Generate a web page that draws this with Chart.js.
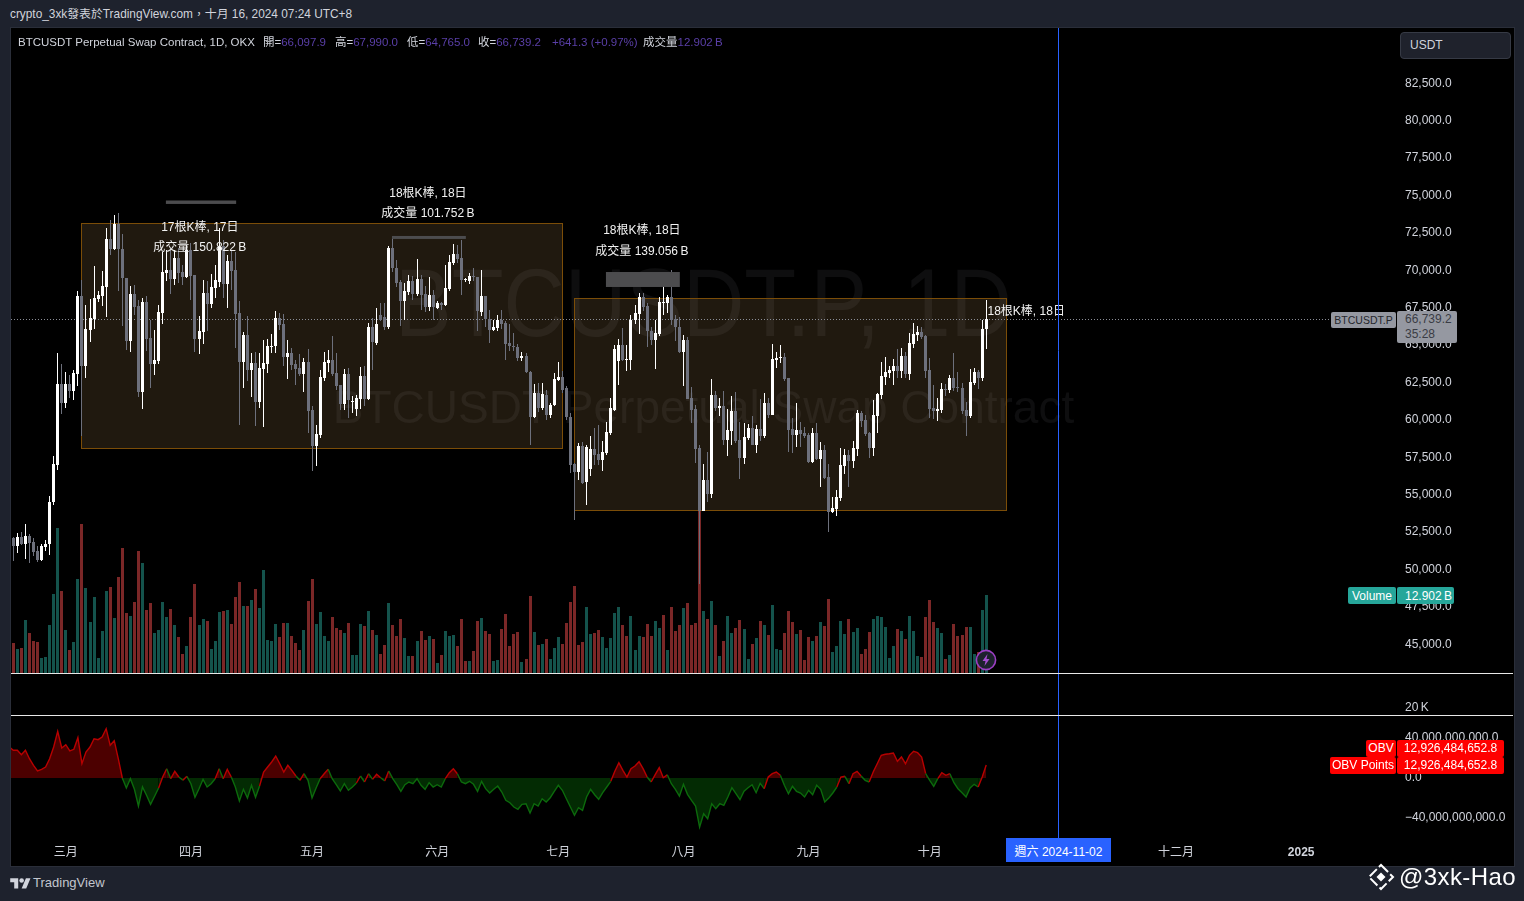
<!DOCTYPE html>
<html>
<head>
<meta charset="utf-8">
<title>BTCUSDT.P 1D</title>
<script src="https://cdn.jsdelivr.net/npm/chart.js@4/dist/chart.umd.js"></script>
<style>
  html, body { margin: 0; padding: 0; width: 1524px; height: 901px; overflow: hidden; background: #1e222d; }
  body { font: 12px "Liberation Sans", "Noto Sans CJK TC", sans-serif; color: #d1d4dc; position: relative; }
  canvas { position: absolute; left: 11px; }
  .abs { position: absolute; white-space: nowrap; }
  #pane { position: absolute; left: 10px; top: 27px; width: 1503px; height: 838px; background: #000; border: 1px solid #2a2e39; box-sizing: content-box; }
  .sep { position: absolute; left: 11px; width: 1502px; height: 1px; background: #e8e8e8; }
  .tag { position: absolute; text-align: center; white-space: nowrap; border-radius: 2px; }
  .legend span { position: absolute; top: 0; white-space: nowrap; line-height: 14px; }
  .val { color: #5a3fa8; font-style: normal; }
</style>
</head>
<body>
<div id="pane"></div>
<canvas id="priceChart" width="1502" height="645" style="top:28px"></canvas>
<canvas id="gapChart" width="1502" height="42" style="top:673px"></canvas>
<canvas id="obvChart" width="1502" height="151" style="top:715px"></canvas>
<div class="sep" style="top:673px"></div>
<div class="sep" style="top:715px"></div>

<div class="abs" style="left:10px;top:7px;line-height:14px;font-size:11.85px">crypto_3xk發表於TradingView.com，十月 16, 2024 07:24 UTC+8</div>

<div class="legend abs" style="left:0;top:35px;font-size:11.5px">
  <span style="left:18px">BTCUSDT Perpetual Swap Contract, 1D, OKX</span>
  <span style="left:263px">開=<i class="val">66,097.9</i></span>
  <span style="left:335px">高=<i class="val">67,990.0</i></span>
  <span style="left:407px">低=<i class="val">64,765.0</i></span>
  <span style="left:478px">收=<i class="val">66,739.2</i></span>
  <span class="val" style="left:552px">+641.3 (+0.97%)</span>
  <span style="left:643px">成交量<i class="val">12.902&#8201;B</i></span>
</div>

<div class="tag" style="left:1400px;top:32px;width:100px;height:25px;line-height:25px;background:#1f222c;border:1px solid #363a45;text-align:left;padding-left:9px;border-radius:4px">USDT</div>

<div class="tag" style="left:1331px;top:312px;width:65px;height:16px;line-height:16px;background:#9598a1;color:#24262c;font-size:10.5px">BTCUSDT.P</div>
<div class="tag" style="left:1397px;top:311px;width:60px;height:32px;line-height:15px;background:#9598a1;color:#3a3c44;padding-top:1px;box-sizing:border-box;text-align:left;padding-left:8px">66,739.2<br>35:28</div>

<div class="tag" style="left:1348px;top:587px;width:48px;height:17px;line-height:18px;background:#26a69a;color:#fff">Volume</div>
<div class="tag" style="left:1397px;top:587px;width:57px;height:17px;line-height:18px;background:#26a69a;color:#fff;text-align:left;padding-left:8px;box-sizing:border-box">12.902&#8201;B</div>

<div class="tag" style="left:1366px;top:740px;width:30px;height:17px;line-height:17px;background:#f00;color:#fff">OBV</div>
<div class="tag" style="left:1330px;top:757px;width:66px;height:17px;line-height:17px;background:#f00;color:#fff">OBV Points</div>
<div class="tag" style="left:1397px;top:740px;width:107px;height:17px;line-height:17px;background:#f00;color:#fff">12,926,484,652.8</div>
<div class="tag" style="left:1397px;top:757px;width:107px;height:17px;line-height:17px;background:#f00;color:#fff">12,926,484,652.8</div>

<div class="tag" style="left:1006px;top:838px;width:105px;height:24px;line-height:28px;background:#2962ff;color:#fff;border-radius:0">週六 2024-11-02</div>

<svg class="abs" style="left:975px;top:649px" width="22" height="22" viewBox="0 0 22 22">
  <circle cx="11" cy="11" r="9.6" fill="#1e222d" stroke="#9c3fc4" stroke-width="1.6"/>
  <path d="M12.5 5 L7.5 12 L10.5 12 L9.5 17 L14.5 10 L11.5 10 Z" fill="#a64fd0"/>
</svg>

<svg class="abs" style="left:10px;top:877px" width="21" height="12" viewBox="0 2 36 21" fill="#d1d4dc">
  <path d="M14 22H7V11H0V4h14v18zM28 22h-8l7.5-18h8L28 22z"/><circle cx="20" cy="8" r="4"/>
</svg>
<div class="abs" style="left:33px;top:875px;font-size:13px;color:#c3c6ce">TradingView</div>

<svg class="abs" style="left:1367px;top:863px" width="28" height="28" viewBox="0 0 28 28" fill="none" stroke="#fff" stroke-width="2">
  <path d="M14 2 L26 14 L14 26 L2 14 Z" stroke-dasharray="10 3"/>
  <path d="M14 9.5 L18.5 14 L14 18.5 L9.5 14 Z" fill="#fff" stroke="none"/>
</svg>
<div class="abs" style="left:1399px;top:863px;font-size:24px;color:#fff;letter-spacing:.4px">@3xk-Hao</div>

<script>
// price data, one candle a day from 2024-02-17
const opens = [
  52100,51570,52170,51700,52240,51830,51230,50630,51500,51700,
  54500,57000,62420,61120,62420,61950,63090,68300,63620,66030,
  66760,68100,68300,68900,72110,71440,73110,71440,69500,65290,
  68430,67630,61880,67900,65490,63750,63950,67160,69840,70040,
  69440,70840,69900,69570,71370,69700,65420,65890,68500,67760,
  68830,69230,71600,69100,70640,70040,67160,63890,65690,63350,
  63820,61210,63420,63750,64900,64910,66830,66430,64220,64490,
  63750,63490,63090,63890,60680,58270,59010,62820,63820,64020,
  63150,62350,61080,63090,61170,60750,61410,62950,61410,66230,
  65140,67010,66870,66200,71490,70150,69190,67920,68520,69300,
  68430,69440,68430,67560,68370,67500,67810,67700,68770,70500,
  71110,70840,69320,69260,69640,69570,67210,68300,66740,65980,
  66140,66690,66470,65140,64960,64870,64130,64290,63220,60210,
  61790,60790,61680,60350,60970,62690,62860,62130,60170,57070,
  56540,58230,55820,56710,58050,57720,57290,57780,59120,60680,
  63950,65020,64020,64020,66650,67100,68210,67590,65960,65310,
  65760,67830,67790,68190,66740,66180,64530,65340,61440,60720,
  58120,53910,55980,55040,61660,60790,60920,58650,59250,60590,
  58650,57450,58810,59480,58320,59410,58920,61120,60320,64020,
  64130,64200,62800,59390,58990,59320,59140,58990,57200,59120,
  57380,57980,56180,53840,54060,54750,56940,57650,57250,58050,
  60460,59990,59120,58140,60280,61660,62890,63110,63290,63600,
  63260,64270,63060,65070,65670,65890,65600,63330,60790,60590,
  60660,62060,61990,62800,62190,62130,60660,60260,62460,63200,
  62800,66097.9
];
const closes = [
  51570,52170,51680,52240,51770,51170,50630,51570,51700,54500,
  57050,62420,61120,62420,61950,63150,68300,63620,66090,66830,
  68170,68370,68970,72110,71440,73110,71440,69460,65290,68430,
  67560,61880,67900,65420,63750,64020,67230,69900,70040,69440,
  70840,69840,69570,71370,69640,65420,65960,68500,67760,68900,
  69370,71550,69100,70640,69970,67100,63890,65690,63350,63820,
  61210,63490,63820,64960,64960,66830,66360,64220,64490,63690,
  63420,63090,63890,60610,58270,59070,62890,63890,64020,63090,
  62280,61080,63090,61350,61260,61480,62950,61410,66230,65180,
  66410,66650,66200,71490,70150,69150,67920,68590,69300,68430,
  69440,68370,67560,68370,67560,67810,67700,68830,70570,71110,
  70770,69320,69390,69640,69520,67250,68300,66740,66030,66200,
  66690,66430,65090,64910,64850,64130,64290,63170,60210,61790,
  60790,61750,60350,61010,62750,62860,62020,60170,57000,56540,
  58230,55780,58180,58050,57670,57290,57850,59190,60790,64760,
  65020,64020,64070,66690,67140,68210,67520,65920,65310,65800,
  67880,67850,68190,66670,66180,64530,65340,61390,60660,58050,
  53910,55980,55040,61660,60790,60920,58650,59320,60590,58580,
  57450,58870,59480,58320,59410,58920,61120,60320,64090,64130,
  64200,62730,59320,58990,59320,59080,58920,57160,59120,57380,
  57980,56110,53840,54130,54820,56980,57650,57250,58140,60460,
  59920,59050,58140,60320,61730,62930,63200,63330,63600,63260,
  64270,63060,65110,65740,65890,65560,63260,60720,60590,60720,
  62060,61990,62800,62130,62130,60590,60260,62530,63200,62800,
  66070,66739.2
];
const highs = [
  52190,52440,52500,53040,52370,52100,51570,51700,51970,54900,
  57600,64470,63750,63170,63020,63350,68630,69370,67700,68100,
  70300,68630,69970,72840,73380,73710,73850,72440,69500,68970,
  69030,68030,68170,68300,66690,66030,67700,71240,71370,71370,
  71370,71500,70370,71710,71820,69700,66960,69370,69300,69770,
  70370,72820,72000,71040,71300,71240,67960,65890,66920,64470,
  64560,64470,65360,65420,65760,67300,67140,67100,65360,64800,
  64020,64420,64130,64760,60900,59680,63350,64530,64690,65580,
  64470,62350,63420,63460,61570,61680,63510,63580,66470,66810,
  67470,67810,67810,71640,72150,70710,69370,69150,69700,69590,
  70750,69700,68920,69550,68700,67920,67850,70370,71040,71750,
  71710,72040,69480,69810,70150,69570,70040,68300,67360,66650,
  67030,67360,66580,66430,65800,65090,64510,64470,63290,62420,
  62460,62460,62020,61120,63130,63870,63240,62240,60460,57110,
  58450,58500,58340,58900,59450,59680,58560,59830,61460,65020,
  65400,66140,65020,67030,67700,68480,68480,67800,66200,66690,
  68210,69350,68340,70000,67010,66900,65670,65560,62220,60990,
  58320,57050,57870,62730,61950,61480,61950,60720,61590,61880,
  59880,59810,59720,60260,59630,61390,61790,61440,65070,64560,
  65000,64440,62800,60100,61100,59880,59540,59100,59430,59770,
  58500,58320,57050,54820,55310,58140,58050,57980,58590,60660,
  60610,60320,59210,61330,61770,63870,64180,63620,64040,64710,
  64780,64560,65780,66450,66270,66200,65670,64110,62330,61440,
  62440,62400,63000,64440,63200,62480,61210,63380,63440,63330,
  66670,67990
];
const lows = [
  50590,51100,51610,50700,50430,50900,50500,50560,51230,50950,
  54300,56670,60410,60810,61460,61350,62280,58900,62820,65220,
  66090,67900,67630,66900,71040,71370,68590,66250,64690,64560,
  67000,61550,60750,64600,62150,63020,63750,66430,69300,68430,
  69030,69150,69000,69500,68030,64560,64420,65090,65960,67500,
  68170,68900,68140,67500,68700,64820,59680,62150,62600,61550,
  59610,60810,59540,63130,64470,64470,66000,63620,62750,63300,
  62350,62900,61840,59120,56560,56940,58810,62600,63220,62900,
  62000,60680,60680,60120,60460,60230,60720,60900,61350,63350,
  65000,66580,66000,66070,69900,68900,66250,66650,68370,68000,
  68300,67360,67180,67250,66690,67410,67360,67630,68590,70370,
  70500,68370,69190,69100,69300,65920,66920,66180,65140,65920,
  65920,66100,64020,64600,64600,63950,63950,63100,58340,60100,
  60500,60680,60010,60100,60900,62570,61800,60000,56450,53300,
  56000,55700,54280,56230,57000,57000,56560,57670,59000,60570,
  62350,63910,63240,63310,66400,65760,67300,64890,65000,63420,
  65600,67000,67120,66340,65290,64440,62280,61390,59810,57140,
  49000,53910,54530,54750,60570,60280,58320,57580,58340,58430,
  56040,57050,58650,58320,57800,58610,58760,60100,60320,63440,
  63780,62600,57870,57760,58200,58200,58760,57090,57140,57310,
  55530,56020,52520,53750,53570,54570,56380,55530,56800,57580,
  59500,58900,57430,57600,59140,61400,62330,62800,62330,62800,
  62770,62800,62660,64820,65300,65400,62770,60100,60030,59900,
  60430,61600,61820,61950,61880,60400,58940,60100,62300,62060,
  62600,64765
];

// volume in billions, side is the bar colour in the picture (T teal, R red)
const volumes = [
  4.96,3.97,4.13,8.82,6.61,5.29,5.12,2.48,2.7,7.99,
  13.12,24,13.6,7.17,3.86,5.18,15.6,24.7,14.1,8.49,
  12.6,2.54,7,13.6,14.3,9.15,15.9,20.6,9.98,9.48,
  11.8,20.1,18.25,10.5,11.6,6.67,7.17,11.8,9.32,10.6,
  8,6,3.2,4.52,9.32,14.8,8,9,8.66,4.03,
  5.35,10.1,10.3,10.5,8.16,12.5,15.1,11.1,11.1,12.1,
  13.95,10.8,17.1,5.5,5.35,8.16,6,8.33,8.33,6.18,
  5.02,3.86,7.17,11.97,15.6,8.16,10.1,6.18,5.35,9.32,
  7.5,7.17,6.67,8.32,3.03,3.03,8.16,7.82,10.3,7.16,
  6.34,3.2,4.68,11.6,8,6.17,8.98,5.84,2.87,2.87,
  5.34,7,5.51,6.17,5.68,1.71,3.03,7,6.17,6.34,
  4.52,8.98,2.04,2.04,3.69,8.65,9.15,7,6.5,2.04,
  2.2,7.33,9.8,4.52,6.5,6.83,1.87,2.37,12.8,6.83,
  4.68,4.85,5.68,2.37,4.19,6,4.85,8.32,11.8,14.4,
  4.68,5.18,10.96,6.5,6.67,7.16,6,4.19,5.84,9.97,
  10.96,8,6.17,9.48,3.86,6.17,6,8.16,6.17,8.65,
  7.49,9.64,3.86,10.96,7,8,10.8,11.6,8,8.32,
  27,10.3,8.98,11.96,8,2.87,5.34,9.48,6.67,7.49,
  8.82,7.33,2.37,4.85,5.84,8.65,8,6.34,11.3,4.02,
  3.86,6.67,10.3,8.49,6.5,7.16,2.2,6,5.34,6.17,
  8.49,7.82,12.3,3.53,4.52,8.65,6.5,8.98,6.83,7.49,
  3.2,4.02,6.83,8.98,9.48,9.31,7.66,2.53,4.52,7.33,
  7,5.68,9.48,7,2.87,2.7,9.31,12.1,8.49,7.49,
  6.67,2.37,3.03,8.16,6.17,6.34,7.66,7.66,3.2,3.53,
  10.47,12.902
];
const volumeSide = (
  "RTRTRRRTTT" + "TTRTRTTRTT" + "TTTTRTRRRT" + "RRTRRTTTTR" +
  "TRRTRRTTRT" + "TTRTRRRTRT" + "RTTTTTRRTR" + "RRTRRTTTTR" +
  "RRTRTTTRTR" + "TRRTRRRTTR" + "TRRTRTRTTT" + "RRRTRRTRRT" +
  "TRRRRRTRRT" + "RTRTTTRRRR" + "RRTTRRTTTT" + "TRRTTTRRRT" +
  "TRTRRRTRRR" + "RTRTRTRTTR" + "RTTRTRTRTT" + "TRRRTRRRTR" +
  "TRRTTTTRTT" + "RRRTTTTTTR" + "TRTTTRRRRT" + "TRTRRRRTTR" + "TT"
).split("");

// OBV in billions, obvLead is the value just left of the first whole candle
const obvLead = 31;
const obvValues = [
  27.7,27.7,23.3,27.7,19.3,12.7,7,8.7,11,19.3,
  31,46.7,30,33.3,27,28.7,40.3,14.3,26,31,
  39.3,38.3,41,49.3,32.7,37.3,19.3,0,-10,-0.7,
  -11.3,-28,-9,-17.3,-26.3,-18.3,-10,1,9.3,-0.7,
  6.7,1,-2.3,1.7,-5.7,-19.3,-10.7,-1.3,-9,-5.7,
  -0.7,9.3,-0.7,8.7,1,-9,-23,-11.3,-20,-7.3,
  -19.3,-8,6,11,16,22,14.3,6,12.7,7.7,
  2,-2.3,4.3,-2.3,-20,-10,-0.7,4.3,8.7,-0.7,
  -6.7,-13,-5.7,-12.3,-9,-5,2,-4,4.3,-1.3,
  3.7,0.3,-3,7,-0.7,-6.7,-13.3,-6.7,-4,-5.7,
  -0.7,-7.3,-11.3,-4.7,-9,-6.7,-9,-0.7,5.3,9.3,
  4.3,-4,-5.7,-3.3,-6.3,-13.3,-3.3,-10.7,-15,-11.3,
  -8,-14,-22.3,-24.7,-29,-31.3,-26.3,-25.7,-35,-25.7,
  -28,-20.7,-24,-19.7,-13.3,-7.3,-12.3,-20.7,-29,-37.3,
  -29.7,-32.3,-19,-11.3,-16.7,-21.3,-14.7,-9,-3.3,6.7,
  15.3,7.7,1,9.3,12,16.3,9.3,1,-4,3.3,
  10.3,0.3,3.3,-5.7,-11.3,-18,-6.3,-16.3,-22.3,-28,
  -49,-35.7,-40.7,-25.7,-30.7,-25.7,-27.3,-19,-9.7,-15.7,
  -21.7,-13.3,-9.7,-6.7,-14.7,-5.3,-10.7,1,4.3,6,
  2.7,-7.3,-15.7,-8.3,-13.3,-15,-19,-12.3,-16.7,-7.3,
  -11.3,-24,-20,-15,-9,1,1.7,-5.7,4.3,6.7,
  2,-2.3,-4,6,14.3,22.7,23.7,24.3,25,16.7,
  21,14.3,22.7,26.7,25.3,21,4.3,-2.3,-8.3,-0.7,
  5.3,2.7,4.3,-4.7,-10.7,-14.7,-19,-10,-6.3,-9,
  1,12.93
];

const priceTicks = [45000,47500,50000,52500,55000,57500,60000,62500,65000,67500,70000,72500,75000,77500,80000,82500];
const obvTicks = [-40,0,40];
const gapTicks = [20000];
// candle index of the first of each month
const monthTicks = [13,44,74,105,135,166,197,227,288,319];
const monthLabels = ["三月","四月","五月","六月","七月","八月","九月","十月","十二月","2025"];

const LAST_PRICE = 66739.2;
const CURSOR_DAY = 259;

// rectangles drawn on the chart
const boxStart = [16.8, 139];
const boxEnd = [136, 246];
const boxTop = [73150, 68120];
const boxBottom = [58120, 53970];

const rangeStart = [37.8, 93.8, 146.8];
const rangeEnd = [55.2, 112.1, 165.1];
const rangeTop = [74660, 72290, 69880];
const rangeBottom = [74430, 72090, 68880];

const noteDay = [46.2, 46.2, 102.7, 102.7, 155.7, 155.7, 250.9];
const notePrice = [72820, 71485, 75095, 73757, 72620, 71217, 67205];
const noteText = [
  "17根K棒, 17日", "成交量 150.822\u2009B",
  "18根K棒, 18日", "成交量 101.752\u2009B",
  "18根K棒, 18日", "成交量 139.056\u2009B",
  "18根K棒, 18日"
];

const X_MIN = -0.57;
const X_MAX = 342.5;
const FONT_FAMILY = '"Liberation Sans", "Noto Sans CJK TC", sans-serif';
const UP_COLOR = "#ffffff";
const DOWN_COLOR = "#6d707c";
const TEAL = "#14534c";
const RED = "#7b2727";

const days = closes.map((_, i) => i);
const candleColors = closes.map((c, i) => (c >= opens[i] ? UP_COLOR : DOWN_COLOR));

// keep 1px wicks and 3px bodies crisp instead of smeared over two pixels
const snapBars = {
  id: "snapBars",
  afterDatasetsUpdate(chart) {
    chart.data.datasets.forEach((ds, di) => {
      chart.getDatasetMeta(di).data.forEach(bar => {
        bar.x = Math.floor(bar.x) + 0.5;
        bar.y = Math.round(bar.y);
        bar.base = Math.round(bar.base);
        if (bar.y === bar.base) bar.y = bar.base - 1;
      });
    });
  }
};

const cursorLine = {
  id: "cursorLine",
  afterDraw(chart) {
    const { ctx, chartArea } = chart;
    const px = Math.floor(chart.scales.x.getPixelForValue(CURSOR_DAY)) + 0.5;
    ctx.save();
    ctx.strokeStyle = "#2962ff";
    ctx.lineWidth = 1;
    ctx.beginPath();
    ctx.moveTo(px, chartArea.top);
    ctx.lineTo(px, chartArea.bottom);
    ctx.stroke();
    ctx.restore();
  }
};

const priceDecor = {
  id: "priceDecor",
  beforeDatasetsDraw(chart) {
    const { ctx, chartArea } = chart;
    const xs = chart.scales.x;
    const ys = chart.scales.y;
    const mid = (chartArea.left + chartArea.right) / 2;
    ctx.save();

    // watermark, squeezed a little to the width of the narrower original face
    ctx.textAlign = "center";
    ctx.textBaseline = "middle";
    ctx.fillStyle = "rgba(120,123,134,0.115)";
    ctx.save();
    ctx.translate(mid, 282);
    ctx.scale(0.885, 1);
    ctx.font = `96px ${FONT_FAMILY}`;
    ctx.fillText("BTCUSDT.P, 1D", 0, 0);
    ctx.restore();
    ctx.font = `46px ${FONT_FAMILY}`;
    ctx.fillText("BTCUSDT Perpetual Swap Contract", mid, 382);

    boxStart.forEach((start, i) => {
      const left = Math.round(xs.getPixelForValue(start)) + 0.5;
      const right = Math.round(xs.getPixelForValue(boxEnd[i])) + 0.5;
      const top = Math.round(ys.getPixelForValue(boxTop[i])) + 0.5;
      const bottom = Math.round(ys.getPixelForValue(boxBottom[i])) + 0.5;
      ctx.fillStyle = "rgba(255,200,120,0.125)";
      ctx.fillRect(left, top, right - left, bottom - top);
      ctx.strokeStyle = "#7b4d08";
      ctx.lineWidth = 1;
      ctx.strokeRect(left, top, right - left, bottom - top);
    });

    // last price line
    const py = Math.floor(ys.getPixelForValue(LAST_PRICE)) + 0.5;
    ctx.strokeStyle = "#8a8d96";
    ctx.setLineDash([1, 2]);
    ctx.beginPath();
    ctx.moveTo(chartArea.left, py);
    ctx.lineTo(chartArea.right - 65, py);
    ctx.stroke();
    ctx.restore();
  },
  afterDatasetsDraw(chart) {
    const { ctx } = chart;
    const xs = chart.scales.x;
    const ys = chart.scales.y;
    ctx.save();

    rangeStart.forEach((start, i) => {
      const left = xs.getPixelForValue(start);
      const top = ys.getPixelForValue(rangeTop[i]);
      ctx.fillStyle = "#4c4c4e";
      ctx.fillRect(left, top, xs.getPixelForValue(rangeEnd[i]) - left, ys.getPixelForValue(rangeBottom[i]) - top);
    });

    ctx.fillStyle = "#f2f2f2";
    ctx.textAlign = "center";
    ctx.textBaseline = "middle";
    ctx.font = `12px ${FONT_FAMILY}`;
    noteText.forEach((text, i) => {
      ctx.fillText(text, xs.getPixelForValue(noteDay[i]), ys.getPixelForValue(notePrice[i]));
    });
    ctx.restore();
  }
};

function rightAxis(extra) {
  return Object.assign({
    position: "right",
    grid: { display: false, drawTicks: false },
    border: { display: false },
    afterFit(scale) {
      scale.width = 117;
      scale.paddingTop = 0;
      scale.paddingBottom = 0;
    }
  }, extra);
}

function tickFont() {
  return { family: FONT_FAMILY, size: 12 };
}

function hiddenX() {
  return { type: "linear", display: false, offset: false, min: X_MIN, max: X_MAX };
}

const baseOptions = {
  responsive: false,
  animation: false,
  events: [],
  layout: { padding: 0 },
  plugins: { legend: { display: false }, tooltip: { enabled: false } }
};

new Chart(document.getElementById("priceChart"), {
  type: "bar",
  data: {
    datasets: [
      {
        data: days.map(i => ({ x: i, y: volumes[i] })),
        yAxisID: "yVolume",
        backgroundColor: volumeSide.map(s => (s === "T" ? TEAL : RED)),
        barThickness: 3,
        inflateAmount: 0,
        order: 3
      },
      {
        data: days.map(i => ({ x: i, y: [lows[i], highs[i]] })),
        yAxisID: "y",
        backgroundColor: candleColors,
        barThickness: 1,
        inflateAmount: 0,
        order: 2
      },
      {
        data: days.map(i => ({ x: i, y: [opens[i], closes[i]] })),
        yAxisID: "y",
        backgroundColor: candleColors,
        barThickness: 3,
        inflateAmount: 0,
        order: 1
      }
    ]
  },
  options: {
    ...baseOptions,
    datasets: { bar: { grouped: false } },
    scales: {
      x: hiddenX(),
      y: rightAxis({
        min: 43078,
        max: 86190,
        afterBuildTicks(scale) { scale.ticks = priceTicks.map(value => ({ value })); },
        ticks: {
          color: "#d1d4dc",
          padding: 9,
          crossAlign: "near",
          font: tickFont(),
          callback: v => v.toLocaleString("en-US", { minimumFractionDigits: 1 })
        }
      }),
      yVolume: { display: false, min: 0, max: 106.7 }
    }
  },
  plugins: [snapBars, priceDecor, cursorLine]
});

new Chart(document.getElementById("gapChart"), {
  type: "line",
  data: { datasets: [{ data: [], pointRadius: 0 }] },
  options: {
    ...baseOptions,
    scales: {
      x: hiddenX(),
      y: rightAxis({
        min: 0,
        max: 120000,
        afterBuildTicks(scale) { scale.ticks = gapTicks.map(value => ({ value })); },
        ticks: {
          color: "#d1d4dc",
          padding: 9,
          crossAlign: "near",
          font: tickFont(),
          callback: v => `${v / 1000}\u2009K`
        }
      })
    }
  },
  plugins: [cursorLine]
});

new Chart(document.getElementById("obvChart"), {
  type: "line",
  data: {
    datasets: [{
      data: [{ x: -1, y: obvLead }].concat(days.map(i => ({ x: i, y: obvValues[i] }))),
      pointRadius: 0,
      borderWidth: 1.4,
      tension: 0,
      borderColor: "#b80000",
      segment: {
        borderColor: ctx => (ctx.p0.parsed.y >= 0 && ctx.p1.parsed.y >= 0 ? "#b80000"
          : ctx.p0.parsed.y <= 0 && ctx.p1.parsed.y <= 0 ? "#0c6a0c"
          : ctx.p1.parsed.y > 0 ? "#b80000" : "#0c6a0c")
      },
      fill: { target: { value: 0 }, above: "#4c0000", below: "#032b03" }
    }]
  },
  options: {
    ...baseOptions,
    scales: {
      x: {
        type: "linear",
        offset: false,
        min: X_MIN,
        max: X_MAX,
        grid: { display: false, drawTicks: false },
        border: { display: false },
        afterBuildTicks(scale) { scale.ticks = monthTicks.map(value => ({ value })); },
        afterFit(scale) { scale.height = 28; },
        ticks: {
          color: "#d1d4dc",
          padding: 7,
          autoSkip: false,
          maxRotation: 0,
          font: ctx => ({
            family: FONT_FAMILY,
            size: 12,
            weight: ctx.tick && ctx.tick.value === 319 ? "bold" : "normal"
          }),
          callback: v => monthLabels[monthTicks.indexOf(v)]
        }
      },
      y: rightAxis({
        min: -60,
        max: 63,
        afterBuildTicks(scale) { scale.ticks = obvTicks.map(value => ({ value })); },
        ticks: {
          color: "#d1d4dc",
          padding: 9,
          crossAlign: "near",
          font: tickFont(),
          callback: v => {
            const text = Math.abs(v * 1e9).toLocaleString("en-US", { minimumFractionDigits: 1 });
            return v < 0 ? `\u2212${text}` : text;
          }
        }
      })
    }
  },
  plugins: [cursorLine]
});
</script>
</body>
</html>
